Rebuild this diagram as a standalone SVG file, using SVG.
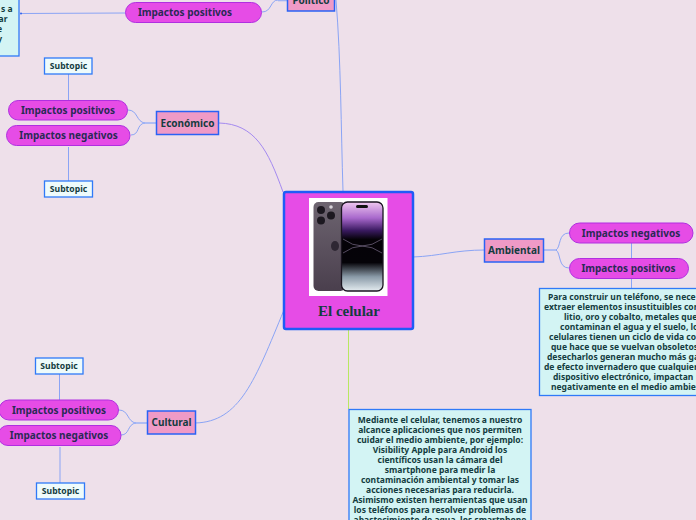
<svg xmlns="http://www.w3.org/2000/svg" width="696" height="520" viewBox="0 0 696 520">
<style>
text{font-family:"Noto Sans","DejaVu Sans",sans-serif;font-weight:700;fill:#143c40}
.c{text-anchor:middle}
.imp{fill:#e64ce6;stroke:#b02fe0;stroke-width:1}
.imp-t{font-size:10px;fill:#2a2a55}
.main{fill:#ef9ac6;stroke:#2a62f5;stroke-width:1.5}
.main-t{font-size:10px}
.sub{fill:#eefbfb;stroke:#2f7af8;stroke-width:1.3}
.sub-t{font-size:8.600px}
.note{fill:#d3f4f4;stroke:#2f7af8;stroke-width:1.3}
.note-t{font-size:8.500px}
.l{fill:none;stroke:#8aa4f5;stroke-width:1}
.t{fill:none;stroke:#a0b4f5;stroke-width:1.6}
</style>
<defs>
<linearGradient id="body" x1="0" y1="0" x2="0" y2="1"><stop offset="0" stop-color="#6d6470"/><stop offset="1" stop-color="#4a3f4d"/></linearGradient>
<linearGradient id="s" x1="0" y1="0" x2="0" y2="1"><stop offset="0" stop-color="#f0c8f0"/><stop offset=".18" stop-color="#a868cc"/><stop offset=".32" stop-color="#3a1a60"/><stop offset=".42" stop-color="#050208"/><stop offset=".68" stop-color="#050308"/><stop offset=".84" stop-color="#8a9aa8"/><stop offset="1" stop-color="#e4ecf0"/></linearGradient>
</defs>
<rect width="696" height="520" fill="#eee0ea"/>
<g id="connectors">
<path class="l" d="M219 123C255 124 268 150 283 192" style="stroke:#a48af0"/>
<path class="l" d="M336 0C341 60 341 130 343 191"/>
<path class="l" d="M413 257C440 256 455 250 485 250"/>
<path class="l" d="M195 423C240 422 255 380 284 310"/>
<path d="M348.500 329V409" fill="none" stroke="#b8e860" stroke-width="1"/>
<path class="l" d="M262 12C272 12 270 0 278 0"/>
<path class="t" d="M278 .5H288"/>
<path class="l" d="M125 13L21 13.500"/>
<circle cx="21" cy="13.500" r="1" fill="#2f62f0"/>
<path class="l" d="M128 110C138 110 136 122 145 123M131 135C140 135 136 124 145 123"/>
<path class="t" d="M143 123H156"/>
<path class="l" d="M68.500 74V100M68.500 147V181"/>
<path class="l" d="M119 410C129 410 127 422 136 423M121 435C130 435 127 424 136 423"/>
<path class="t" d="M134 423H147"/>
<path class="l" d="M59.500 374V400M60 447V483"/>
<path class="l" d="M569 233C558 233 561 247 556 250C561 253 558 268 569 268"/>
<path class="t" d="M543 250H556"/>
<path class="l" d="M631.500 243V258M631.500 278V288"/>
</g>
<g id="root">
<rect x="284" y="192" width="129" height="137" rx="2" fill="#e64ce6" stroke="#1f5cf7" stroke-width="2.500"/>
<rect x="309" y="198" width="78.500" height="98" fill="#fff"/>
<rect x="313.500" y="202" width="32" height="89" rx="5" fill="url(#body)"/>
<circle cx="321" cy="210" r="4" fill="#1c1820"/><circle cx="321" cy="220.500" r="4" fill="#1c1820"/><circle cx="331" cy="215.500" r="4" fill="#1c1820"/>
<circle cx="331" cy="207" r="1.800" fill="#d8d4da"/>
<ellipse cx="335" cy="246" rx="4" ry="5" fill="#2e2733"/>
<rect x="341.500" y="202" width="41.500" height="89" rx="6" fill="url(#s)" stroke="#1a1420" stroke-width="1.300"/>
<path d="M343 239Q362 253 382 239M343 253Q362 239 382 253" fill="none" stroke="#8a7a9a" stroke-width=".6"/>
<rect x="356" y="205" width="12" height="3" rx="1.500" fill="#111"/>
<text class="c" x="349" y="316" style="font-family:'Liberation Serif',serif;font-size:15px">El celular</text>
</g>
<g id="politico"><rect x="287.500" y="-14" width="47" height="25" class="main"/><text class="main-t c" x="311" y="3.500">Político</text></g>
<g id="pol-pos"><rect x="125.500" y="2.500" width="136" height="20" rx="10" class="imp"/><text class="imp-t c" x="185" y="16">Impactos positivos</text></g>
<g id="pol-note"><rect x="-20" y="-20" width="39" height="76" class="note"/>
<text class="note-t" text-anchor="end" x="12.700" y="12">s a</text><text class="note-t" text-anchor="end" x="7.500" y="22">ar</text><text class="note-t" text-anchor="end" x="2" y="32">e</text><text class="note-t" text-anchor="end" x="2" y="42">y</text></g>
<g id="economico"><rect x="156.500" y="111.500" width="62" height="23" class="main"/><text class="main-t c" x="187.500" y="126.500">Económico</text></g>
<g id="eco-pos"><rect x="8.500" y="100.500" width="119" height="19.500" rx="9.700" class="imp"/><text class="imp-t c" x="68" y="114">Impactos positivos</text></g>
<g id="eco-neg"><rect x="6.500" y="125.500" width="123.500" height="20" rx="10" class="imp"/><text class="imp-t c" x="68.500" y="139">Impactos negativos</text></g>
<g id="eco-sub1"><rect x="44.500" y="58" width="47.500" height="16" class="sub"/><text class="sub-t c" x="68.500" y="69">Subtopic</text></g>
<g id="eco-sub2"><rect x="44.500" y="181" width="48" height="16" class="sub"/><text class="sub-t c" x="68.500" y="192">Subtopic</text></g>
<g id="cultural"><rect x="147.500" y="411" width="48" height="23" class="main"/><text class="main-t c" x="171.500" y="426">Cultural</text></g>
<g id="cul-pos"><rect x="-1" y="400" width="119.500" height="20" rx="10" class="imp"/><text class="imp-t c" x="59" y="414">Impactos positivos</text></g>
<g id="cul-neg"><rect x="-2" y="425.500" width="123" height="20" rx="10" class="imp"/><text class="imp-t c" x="59" y="439">Impactos negativos</text></g>
<g id="cul-sub1"><rect x="35.500" y="358" width="47.500" height="16" class="sub"/><text class="sub-t c" x="59" y="369">Subtopic</text></g>
<g id="cul-sub2"><rect x="36.500" y="483" width="48" height="16" class="sub"/><text class="sub-t c" x="60.500" y="494">Subtopic</text></g>
<g id="ambiental"><rect x="484.500" y="239" width="59" height="23" class="main"/><text class="main-t c" x="514" y="254">Ambiental</text></g>
<g id="amb-neg"><rect x="569.500" y="223" width="123.500" height="20" rx="10" class="imp"/><text class="imp-t c" x="631" y="237">Impactos negativos</text></g>
<g id="amb-pos"><rect x="569.500" y="258.500" width="119" height="20" rx="10" class="imp"/><text class="imp-t c" x="628.500" y="272">Impactos positivos</text></g>
<g id="amb-note"><rect x="539.500" y="288.500" width="186" height="107" class="note"/>
<text class="note-t" x="548" y="300">Para construir un teléfono, se nece</text>
<text class="note-t" x="544" y="310">extraer elementos insustituibles con</text>
<text class="note-t" x="564" y="320">litio, oro y cobalto, metales que</text>
<text class="note-t" x="560" y="330">contaminan el agua y el suelo, lo</text>
<text class="note-t" x="549" y="340">celulares tienen un ciclo de vida co</text>
<text class="note-t" x="551" y="350">que hace que se vuelvan obsoletos</text>
<text class="note-t" x="547" y="360">desecharlos generan mucho más ga</text>
<text class="note-t" x="544" y="370">de efecto invernadero que cualquier</text>
<text class="note-t" x="553" y="380">dispositivo electrónico,  impactan</text>
<text class="note-t" x="551" y="390">negativamente en el medio ambien</text>
</g>
<g id="bottom-note"><rect x="349" y="409.500" width="182" height="125" class="note"/>
<text class="note-t c" x="440" y="423">Mediante el celular, tenemos a nuestro</text>
<text class="note-t c" x="440" y="433">alcance aplicaciones que nos permiten</text>
<text class="note-t c" x="440" y="443">cuidar el medio ambiente, por ejemplo:</text>
<text class="note-t c" x="440" y="453">Visibility Apple para Android los</text>
<text class="note-t c" x="440" y="463">científicos usan la cámara del</text>
<text class="note-t c" x="440" y="473">smartphone para medir la</text>
<text class="note-t c" x="440" y="483">contaminación ambiental y tomar las</text>
<text class="note-t c" x="440" y="493">acciones necesarias para reducirla.</text>
<text class="note-t c" x="440" y="503">Asimismo existen herramientas que usan</text>
<text class="note-t c" x="440" y="513">los teléfonos para resolver problemas de</text>
<text class="note-t c" x="440" y="523">abastecimiento de agua, los smartphone</text>
</g>
</svg>
